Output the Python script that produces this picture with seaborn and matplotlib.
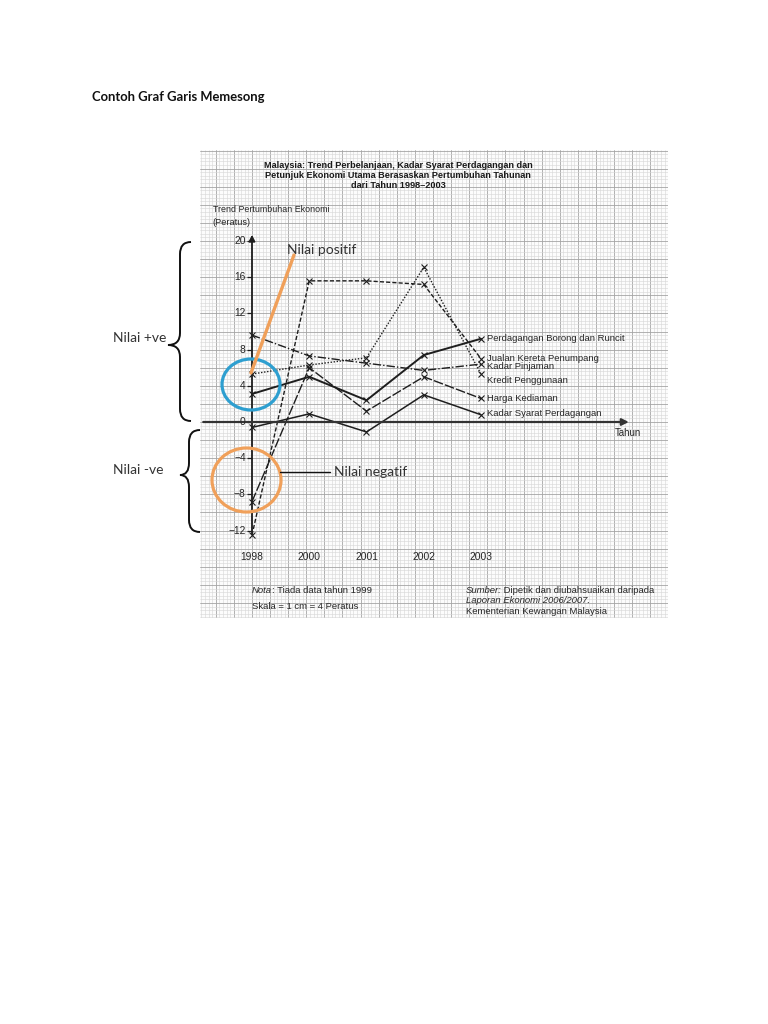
import numpy as np
import pandas as pd
import seaborn as sns
import matplotlib.pyplot as plt
from matplotlib.ticker import MultipleLocator
from matplotlib.patches import Ellipse, PathPatch
from matplotlib.path import Path

# data (Peratus)
years = ['1998', '2000', '2001', '2002', '2003']
perdagangan = [3.1, 5.0, 2.4, 7.4, 9.2]
jualan_kereta = [-12.5, 15.6, 15.6, 15.2, 7.0]
kadar_pinjaman = [9.6, 7.3, 6.5, 5.7, 6.4]
kredit = [5.3, 6.3, 7.1, 17.1, 5.3]
harga_kediaman = [-8.8, 6.0, 1.2, 5.0, 2.6]
kadar_syarat = [-0.6, 0.9, -1.1, 3.0, 0.8]
series_names = ['Perdagangan Borong dan Runcit', 'Jualan Kereta Penumpang', 'Kadar Pinjaman',
                'Kredit Penggunaan', 'Harga Kediaman', 'Kadar Syarat Perdagangan']
ytick_vals = [-12, -8, -4, 0, 4, 8, 12, 16, 20]

series = dict(zip(series_names, [perdagangan, jualan_kereta, kadar_pinjaman,
                                 kredit, harga_kediaman, kadar_syarat]))
df = pd.DataFrame(series)
df['pos'] = np.arange(len(years))

sns.set_style('white')
chart_font = ['Liberation Sans', 'DejaVu Sans']
note_font = ['Lato', 'DejaVu Sans']
plt.rcParams['font.family'] = chart_font

fig = plt.figure(figsize=(7.68, 10.24), dpi=100)
fig.patch.set_facecolor('white')

# graph paper area
ax = fig.add_axes([200 / 768, 1 - 618 / 1024, 468 / 768, 468 / 1024])
ax.set_xlim(-0.908, 7.266)
ax.set_ylim(-21.66, 30.06)
ax.set_facecolor('#fcfcfc')
ax.xaxis.set_major_locator(MultipleLocator(0.31616))
ax.xaxis.set_minor_locator(MultipleLocator(0.063232))
ax.yaxis.set_major_locator(MultipleLocator(2))
ax.yaxis.set_minor_locator(MultipleLocator(0.4))
ax.grid(which='major', color='#a4a4a4', lw=0.6)
ax.grid(which='minor', color='#d6d6d6', lw=0.4)
ax.set_axisbelow(True)
ax.tick_params(which='both', length=0, labelbottom=False, labelleft=False)
for s in ax.spines.values():
    s.set_visible(False)

ink = '#1e1e1e'
txt = '#262626'
styles = {
    'Perdagangan Borong dan Runcit': dict(linestyle='-', lw=1.4),
    'Jualan Kereta Penumpang': dict(linestyle=(0, (3, 1.5)), lw=1.0),
    'Kadar Pinjaman': dict(linestyle=(0, (6, 1.5, 1, 1.5)), lw=1.0),
    'Kredit Penggunaan': dict(linestyle=(0, (1, 1.2)), lw=1.0),
    'Harga Kediaman': dict(linestyle=(0, (7, 1.5)), lw=1.0),
    'Kadar Syarat Perdagangan': dict(linestyle='-', lw=1.1),
}
label_nudge = [0.05, 0.0, -0.3, -0.7, 0.0, 0.15]

for name, nudge in zip(series_names, label_nudge):
    sns.lineplot(data=df, x='pos', y=name, ax=ax, color=ink, marker='x', markersize=4,
                 markeredgewidth=0.8, markeredgecolor=ink, zorder=3, **styles[name])
    ax.text(df['pos'].iloc[-1] + 0.1, df[name].iloc[-1] + nudge, name, fontsize=6.8,
            color=txt, va='center', ha='left')
ax.set_xlabel('')
ax.set_ylabel('')

# axes with arrows
ax.annotate('', xy=(0, 21.0), xytext=(0, -12.7),
            arrowprops=dict(arrowstyle='-|>', color=ink, lw=1.3, mutation_scale=9))
ax.annotate('', xy=(6.63, 0), xytext=(-0.9, 0),
            arrowprops=dict(arrowstyle='-|>', color='#333333', lw=1.6, mutation_scale=10))
ax.hlines(ytick_vals, -0.09, 0, color=ink, lw=0.9)
for v in ytick_vals:
    lab = str(v).replace('-', '\u2212')
    ax.text(-0.11, v, lab, ha='right', va='center', fontsize=7.4, color=txt)
for i, yr in enumerate(years):
    ax.text(i, -14.95, yr, ha='center', va='center', fontsize=7.4, color=txt)

ax.text(6.57, -1.2, 'Tahun', ha='center', va='center', fontsize=7.0, color=txt)
ax.text(-0.686, 23.5, 'Trend Pertumbuhan Ekonomi', ha='left', va='center', fontsize=6.4,
        color=txt)
ax.text(-0.686, 22.1, '(Peratus)', ha='left', va='center', fontsize=6.6, color=txt)
ax.text(2.55, 27.2, 'Malaysia: Trend Perbelanjaan, Kadar Syarat Perdagangan dan\n'
        'Petunjuk Ekonomi Utama Berasaskan Pertumbuhan Tahunan\n'
        'dari Tahun 1998\u20132003', ha='center', va='center', fontsize=6.6,
        fontweight='bold', color='#1a1a1a', linespacing=1.15)

# notes under the chart
t = ax.text(0.0, -18.6, 'Nota', ha='left', va='center', fontsize=6.8, style='italic',
            color=txt)
ax.annotate(': Tiada data tahun 1999', xy=(1, 0.5), xycoords=t, ha='left', va='center',
            fontsize=6.8, color=txt)
ax.text(0.0, -20.4, 'Skala = 1 cm = 4 Peratus', ha='left', va='center', fontsize=6.8,
        color=txt)
t2 = ax.text(3.73, -18.65, 'Sumber:', ha='left', va='center', fontsize=6.8, style='italic',
             color=txt)
ax.annotate(' Dipetik dan diubahsuaikan daripada', xy=(1, 0.5), xycoords=t2, ha='left',
            va='center', fontsize=6.8, color=txt)
ax.text(3.73, -19.75, 'Laporan Ekonomi 2006/2007.', ha='left', va='center', fontsize=6.8,
        style='italic', color=txt)
ax.text(3.73, -20.9, 'Kementerian Kewangan Malaysia', ha='left', va='center', fontsize=6.8,
        color=txt)

# page overlay in pixel units
ov = fig.add_axes([0, 0, 1, 1], zorder=5)
ov.set_xlim(0, 768)
ov.set_ylim(1024, 0)
ov.axis('off')
ov.patch.set_alpha(0)

ov.text(92, 97, 'Contoh Graf Garis Memesong', fontsize=9.4, fontweight='bold',
        family=note_font, va='center', ha='left', color='#111111')


def brace(x_end, x_stem, x_tip, y_top, y_mid, y_bot, r=12):
    verts = [(x_end, y_top), (x_stem, y_top), (x_stem, y_top + r),
             (x_stem, y_mid - r), (x_stem, y_mid), (x_tip, y_mid),
             (x_stem, y_mid), (x_stem, y_mid + r),
             (x_stem, y_bot - r), (x_stem, y_bot), (x_end, y_bot)]
    codes = [Path.MOVETO, Path.CURVE3, Path.CURVE3,
             Path.LINETO, Path.CURVE3, Path.CURVE3,
             Path.CURVE3, Path.CURVE3,
             Path.LINETO, Path.CURVE3, Path.CURVE3]
    ov.add_patch(PathPatch(Path(verts, codes), fill=False, color='#111111', lw=1.4))


brace(191, 180, 168, 242, 345, 421)
brace(200, 189, 180, 430, 475, 532)
ov.text(113, 338, 'Nilai +ve', fontsize=10, family=note_font, va='center', ha='left',
        color='#333333')
ov.text(113, 470, 'Nilai -ve', fontsize=10, family=note_font, va='center', ha='left',
        color='#333333')

orange = '#f0a05a'
ov.plot([251, 294], [373, 255], color=orange, lw=2.4, solid_capstyle='round')
ov.add_patch(Ellipse((251, 384.5), 58, 51, fill=False, ec='#2e9fd0', lw=2.3))
ov.add_patch(Ellipse((246.5, 480), 69, 64, fill=False, ec=orange, lw=2.3))
ov.plot([280, 330], [471.7, 471.7], color='#111111', lw=1.0)
ov.text(287, 250, 'Nilai positif', fontsize=10, family=note_font, va='center', ha='left',
        color='#333333')
ov.text(334, 472, 'Nilai negatif', fontsize=10, family=note_font, va='center', ha='left',
        color='#333333')

fig.savefig('out.png', dpi=100, facecolor='white')
